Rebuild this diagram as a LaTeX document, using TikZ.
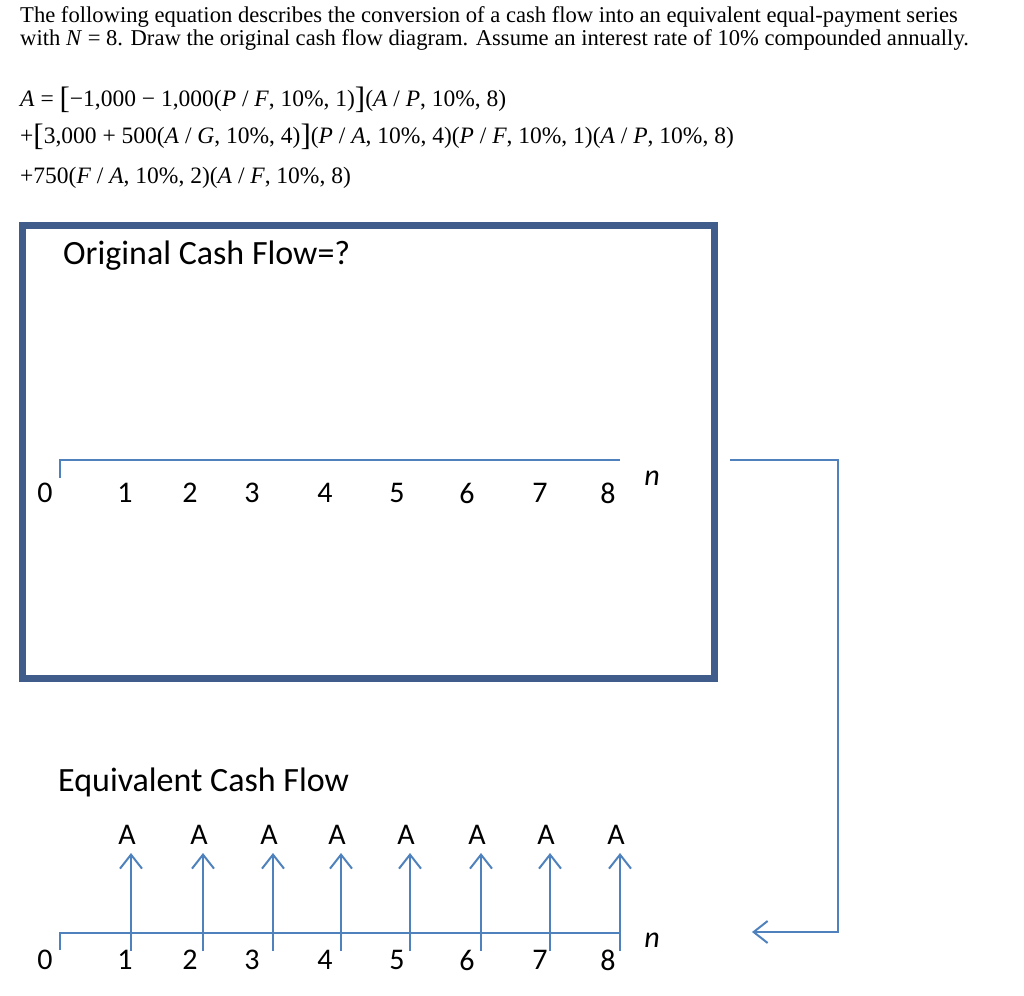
\documentclass[tikz,border=0pt]{standalone}
\usepackage{fontspec}
\usetikzlibrary{arrows.meta}
\setmainfont{Liberation Serif}
\newfontfamily\calfont{Carlito}
\definecolor{boxc}{HTML}{3F5C8A}
\definecolor{linec}{HTML}{4F81BD}
\newcommand{\ii}[1]{\textit{#1}}
\newcommand{\bk}[1]{\raisebox{-2pt}{\fontsize{31}{31}\selectfont #1}}
\begin{document}
\begin{tikzpicture}[x=1pt,y=-1pt,
  txt/.style={anchor=west,inner sep=0pt,font=\fontsize{22.6}{24}\selectfont},
  eq/.style={anchor=west,inner sep=0pt,font=\fontsize{23.5}{25}\selectfont},
  num/.style={inner sep=0pt,font=\calfont\fontsize{30}{32}\selectfont},
  ax/.style={linec,line width=2pt},
  arr/.style={linec,line width=2pt,-{Straight Barb[length=14pt,width=22pt,line width=2pt]}}]
\useasboundingbox (0,0) rectangle (1024,995);
\node[txt] (t1) at (20,17) {The following equation describes the conversion of a cash flow into an equivalent equal-payment series};
\node[txt] (t2) at (20,40) {with \ii{N} = 8. Draw the original cash flow diagram. Assume an interest rate of 10\% compounded annually.};
\node[eq] (e1) at (20,100) {\ii{A} = \bk{[}−1,000 − 1,000(\ii{P} / \ii{F}, 10\%, 1)\bk{]}(\ii{A} / \ii{P}, 10\%, 8)};
\node[eq] (e2) at (20,137) {+\bk{[}3,000 + 500(\ii{A} / \ii{G}, 10\%, 4)\bk{]}(\ii{P} / \ii{A}, 10\%, 4)(\ii{P} / \ii{F}, 10\%, 1)(\ii{A} / \ii{P}, 10\%, 8)};
\node[eq] (e3) at (20,178) {+750(\ii{F} / \ii{A}, 10\%, 2)(\ii{A} / \ii{F}, 10\%, 8)};
\draw[boxc,line width=7pt] (22,225) rectangle (714,678);
\node[anchor=west,inner sep=0pt,font=\calfont\fontsize{34}{36}\selectfont] (ttl) at (63,256) {Original Cash Flow=?};
\node[anchor=west,inner sep=0pt,font=\calfont\fontsize{34}{36}\selectfont] (ttl2) at (58,782) {Equivalent Cash Flow};
% top axis
\coordinate (ts) at (60,478); \coordinate (tc) at (60,460); \coordinate (te) at (620,460);
\draw[ax] (ts) -- (tc) -- (te);
\foreach \l/\x in {0/45,1/125,2/190,3/252,4/325,5/397,6/467,7/540,8/608}
  \node[num] (tl\l) at (\x,493) {\l};
\node[num,font=\calfont\itshape\fontsize{30}{32}\selectfont] (tn) at (652,478) {n};
% bottom axis
\coordinate (bs) at (60,950); \coordinate (bc) at (60,933); \coordinate (be) at (620,933);
\draw[ax] (bs) -- (bc) -- (be);
\foreach \i/\x in {1/131,2/203,3/273,4/341,5/410,6/481,7/550,8/620}{
  \coordinate (b\i) at (\x,951);
  \coordinate (u\i) at (\x,853);
  \draw[arr] (b\i) -- (u\i);
  \node[num] (a\i) at (\x-4,835) {A};
}
\foreach \l/\x in {0/45,1/125,2/190,3/252,4/325,5/397,6/467,7/540,8/608}
  \node[num] (bl\l) at (\x,960) {\l};
\node[num,font=\calfont\itshape\fontsize{30}{32}\selectfont] (bn) at (652,940) {n};
% connector
\coordinate (c1) at (730,460); \coordinate (c2) at (838,460);
\coordinate (c3) at (838,932); \coordinate (c4) at (752,932);
\draw[arr] (c1) -- (c2) -- (c3) -- (c4);
\end{tikzpicture}
\end{document}
